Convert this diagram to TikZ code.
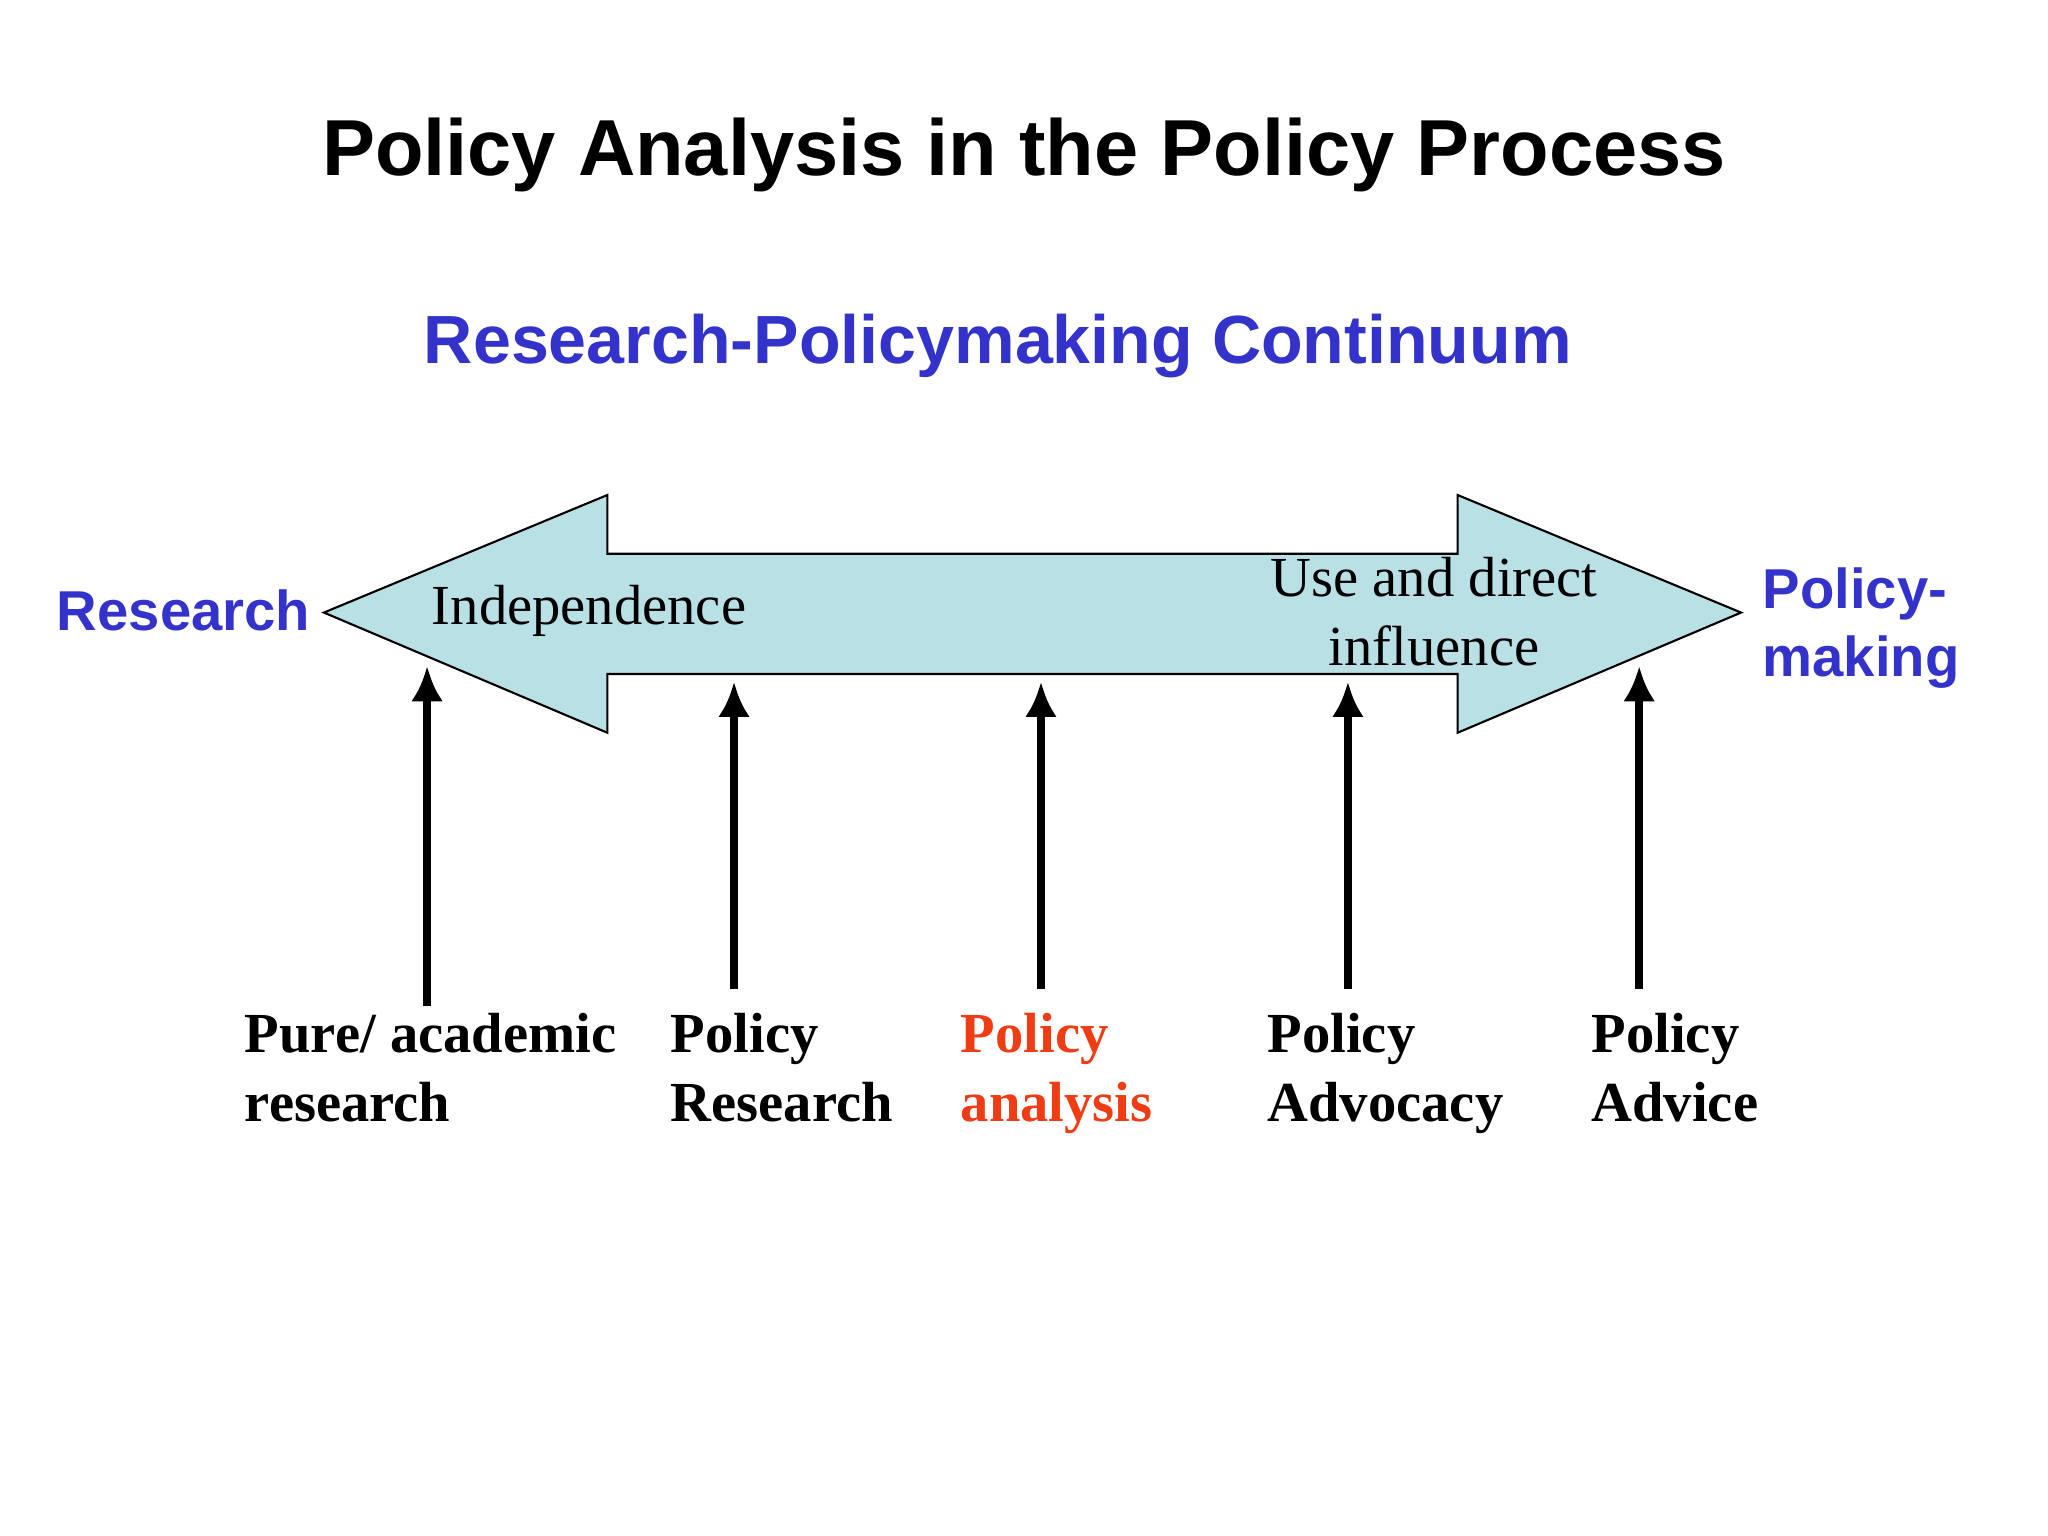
\documentclass[tikz,border=0pt]{standalone}
\usepackage{fontspec}
\setmainfont{Liberation Serif}
\newfontfamily\arial{Liberation Sans}
\definecolor{blu}{RGB}{51,51,204}
\definecolor{redo}{RGB}{240,60,20}
\definecolor{fillc}{RGB}{185,224,228}
\usetikzlibrary{arrows.meta}
\tikzset{
 lbl/.style={font=\fontsize{16.1}{19.6}\selectfont\bfseries, align=left, anchor=north west, inner sep=0},
 upar/.style={line width=2.2pt, -{Latex[length=10pt,width=9pt]}},
 side/.style={font=\arial\fontsize{16}{19.5}\selectfont\bfseries, text=blu, align=left, inner sep=0}
}
\begin{document}
\begin{tikzpicture}[x=0.013061cm,y=-0.013061cm]
\useasboundingbox (0,0) rectangle (1568,1176);
\node (title) at (784,119) {\arial\fontsize{22.6}{26}\selectfont\bfseries Policy Analysis in the Policy Process};
\node (sub) at (764,265) {\arial\fontsize{19.4}{23}\selectfont\bfseries\color{blu} Research-Policymaking Continuum};
\draw[fill=fillc, line width=0.6pt] (248,469) -- (465,379) -- (465,424) -- (1116,424) -- (1116,379) -- (1333,469) -- (1116,561) -- (1116,516) -- (465,516) -- (465,561) -- cycle;
\node[font=\fontsize{16.1}{19.6}\selectfont] (ind) at (451,468) {Independence};
\node[align=center, font=\fontsize{16.1}{19.6}\selectfont] (use) at (1098,468) {Use and direct\\ influence};
\node[side, anchor=east] (res) at (238,467) {Research};
\node[side, anchor=west] (pm) at (1349,481) {Policy-\\making};
\node[lbl] (l1) at (187,775) {Pure/ academic\\research};
\node[lbl] (l2) at (513,775) {Policy\\Research};
\node[lbl, text=redo] (l3) at (735,775) {Policy\\analysis};
\node[lbl] (l4) at (970,775) {Policy\\Advocacy};
\node[lbl] (l5) at (1218,775) {Policy\\Advice};
\coordinate (t1) at (327,510); \coordinate (b1) at (327,770);
\coordinate (t2) at (562,522); \coordinate (b2) at (562,757);
\coordinate (t3) at (797,522); \coordinate (b3) at (797,757);
\coordinate (t4) at (1032,522); \coordinate (b4) at (1032,757);
\coordinate (t5) at (1255,510); \coordinate (b5) at (1255,757);
\foreach \i in {1,...,5} \draw[upar] (b\i) -- (t\i);
\end{tikzpicture}
\end{document}
